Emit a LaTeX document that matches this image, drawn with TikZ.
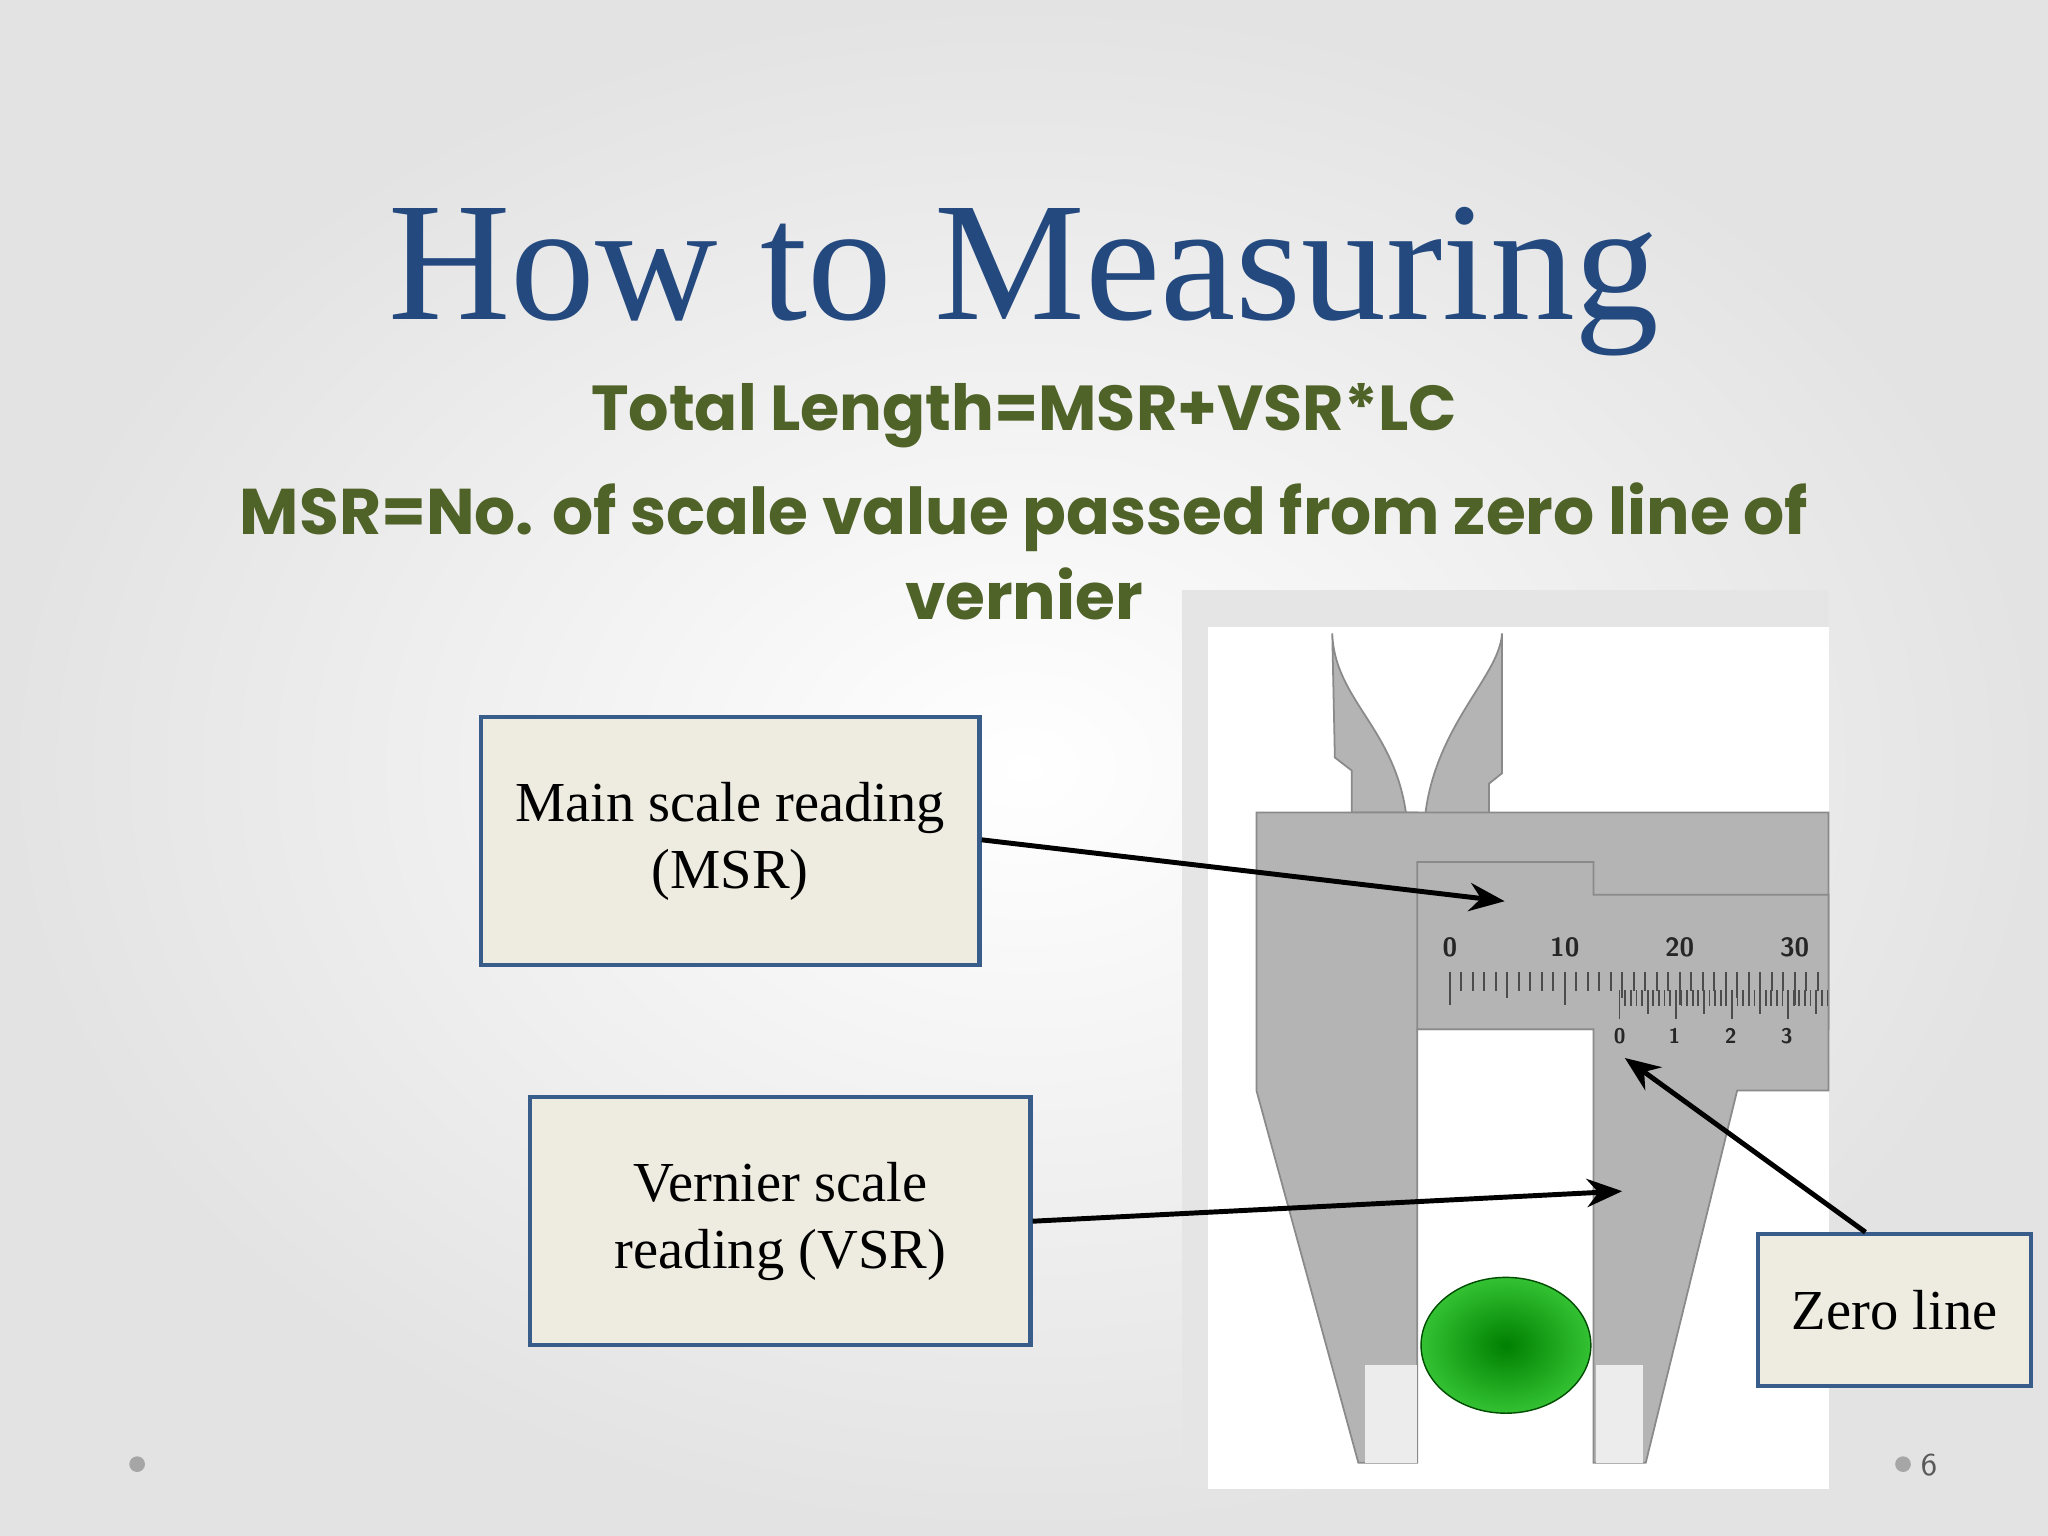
\documentclass[tikz,border=0pt]{standalone}
\usepackage{fontspec}
\setmainfont{Liberation Serif}
\newfontfamily\subfont{Poppins}
\usetikzlibrary{arrows.meta,shadings}
\definecolor{titleblue}{HTML}{24497F}
\definecolor{subgreen}{HTML}{4F6228}
\definecolor{boxfill}{HTML}{EEECE1}
\definecolor{boxline}{HTML}{385D8A}
\definecolor{calgray}{HTML}{B4B4B4}
\definecolor{caledge}{HTML}{8A8A8A}
\tikzset{
  lbox/.style={draw=boxline,line width=1.2pt,fill=boxfill,align=center,font=\fontsize{16}{19}\selectfont,inner sep=0pt},
  arr/.style={-{Stealth[length=10pt,width=8pt]},line width=1.4pt,black},
  cal/.style={fill=calgray,draw=caledge,line width=0.5pt},
}
\begin{document}
\begin{tikzpicture}[x=0.013cm,y=-0.013cm]
\shade[inner color=white,outer color=gray!22] (0,0) rectangle (1568,1176);
\useasboundingbox (0,0) rectangle (1568,1176);
\node[font=\fontsize{48}{52}\selectfont,text=titleblue] (title) at (784,216) {How to Measuring};
\node[font=\subfont\bfseries\fontsize{18}{22}\selectfont,text=subgreen] (f1) at (784,318) {Total Length=MSR+VSR*LC};
\node[font=\subfont\bfseries\fontsize{18.3}{24}\selectfont,text=subgreen,align=center] (f2) at (784,422) {MSR=No. of scale value passed from zero line of\\vernier};
% picture
\fill[gray!20] (905,452) rectangle (1400,1140);
\fill[white] (925,480) rectangle (1400,1140);
% upper jaws
\path[cal] (1020,485) .. controls (1022,540) and (1075,560) .. (1078,640) -- (1080,660) -- (1085,660) -- (1085,622) -- (1035,622) -- (1035,590) -- (1022,580) -- cycle;
\path[cal] (1150,485) .. controls (1148,520) and (1092,560) .. (1090,640) -- (1090,660) -- (1140,622) -- (1140,600) -- (1150,592) -- cycle;
% beam + fixed jaw
\path[cal] (962,622) -- (1400,622) -- (1400,788) -- (1085,788) -- (1085,1120) -- (1040,1120) -- (962,835) -- cycle;
% slider
\path[cal] (1085,660) -- (1220,660) -- (1220,685) -- (1400,685) -- (1400,835) -- (1330,835) -- (1260,1120) -- (1220,1120) -- (1220,788) -- (1085,788) -- cycle;
\fill[gray!15] (1045,1045) rectangle (1085,1120);
\fill[gray!15] (1222,1045) rectangle (1258,1120);
% main scale
\foreach \i in {0,...,32} {
  \pgfmathsetmacro\len{ifthenelse(mod(\i,10)==0,28,ifthenelse(mod(\i,5)==0,22,16))}
  \draw[gray!60!black,line width=0.5pt] ({1110+8.8*\i},744) -- ++(0,\len*0.9);
}
\foreach \n/\x in {0/1110,10/1198,20/1286,30/1374}
  \node[font=\sffamily\bfseries\fontsize{7.5}{8}\selectfont,text=gray!30!black] (m\n) at (\x,725) {\n};
% vernier scale
\foreach \i in {0,...,37} {
  \pgfmathsetmacro\len{ifthenelse(mod(\i,10)==0,22,ifthenelse(mod(\i,5)==0,18,12))}
  \draw[gray!60!black,line width=0.5pt] ({1240+4.3*\i},758) -- ++(0,\len);
}
\foreach \n/\x in {0/1240,1/1282,2/1325,3/1368}
  \node[font=\sffamily\bfseries\fontsize{6}{7}\selectfont,text=gray!30!black] (v\n) at (\x,793) {\n};
% ball
\shade[inner color=green!50!black,outer color=green!70!black!80,draw=green!30!black] (1153,1030) ellipse (65 and 52);
% boxes
\node[lbox,minimum width=4.966cm,minimum height=2.47cm] (b1) at (559,644) {Main scale reading\\(MSR)};
\node[lbox,minimum width=4.979cm,minimum height=2.47cm] (b2) at (597.5,935) {Vernier scale\\reading (VSR)};
\node[lbox,minimum width=2.717cm,minimum height=1.508cm] (b3) at (1450.5,1003) {Zero line};
\coordinate (a1e) at (1152,690);
\coordinate (a2e) at (1242,912);
\coordinate (a3e) at (1244,810);
\draw[arr] (b1.east |- 0,643) -- (a1e);
\draw[arr] (b2.east) -- (a2e);
\draw[arr] (b3.north west) ++(1.09cm,0) -- (a3e);
% footer
\fill[gray!70] (105,1121) circle (6);
\fill[gray!70] (1457,1121) circle (6);
\node[font=\sffamily\fontsize{9}{10}\selectfont,text=gray!70!black] (pg) at (1477,1122) {6};
\end{tikzpicture}
\end{document}
